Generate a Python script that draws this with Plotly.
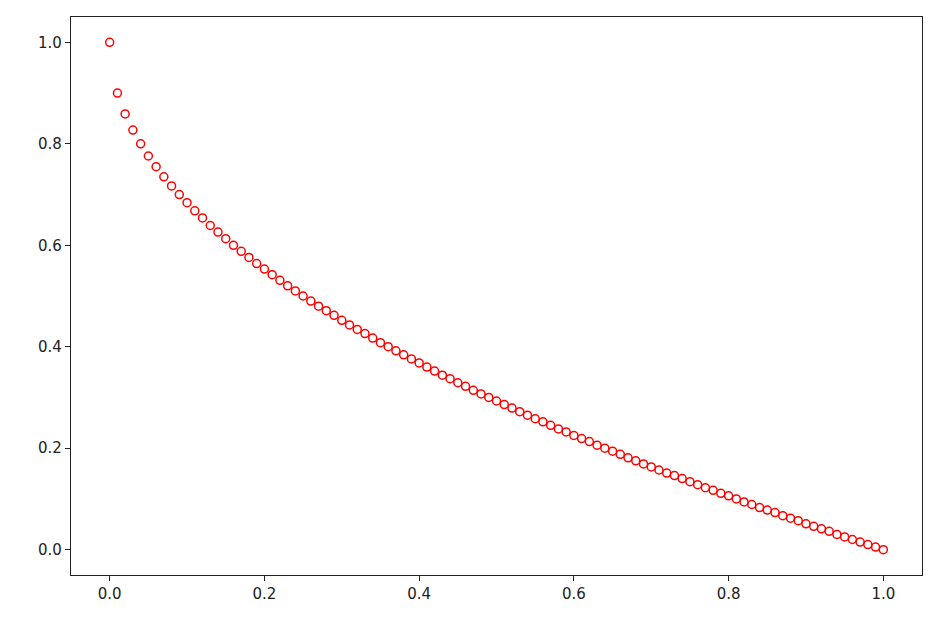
import plotly.graph_objects as go

# x samples (0 .. 1, step 0.01)
x_vals = [
    0.00, 0.01, 0.02, 0.03, 0.04, 0.05, 0.06, 0.07, 0.08, 0.09,
    0.10, 0.11, 0.12, 0.13, 0.14, 0.15, 0.16, 0.17, 0.18, 0.19,
    0.20, 0.21, 0.22, 0.23, 0.24, 0.25, 0.26, 0.27, 0.28, 0.29,
    0.30, 0.31, 0.32, 0.33, 0.34, 0.35, 0.36, 0.37, 0.38, 0.39,
    0.40, 0.41, 0.42, 0.43, 0.44, 0.45, 0.46, 0.47, 0.48, 0.49,
    0.50, 0.51, 0.52, 0.53, 0.54, 0.55, 0.56, 0.57, 0.58, 0.59,
    0.60, 0.61, 0.62, 0.63, 0.64, 0.65, 0.66, 0.67, 0.68, 0.69,
    0.70, 0.71, 0.72, 0.73, 0.74, 0.75, 0.76, 0.77, 0.78, 0.79,
    0.80, 0.81, 0.82, 0.83, 0.84, 0.85, 0.86, 0.87, 0.88, 0.89,
    0.90, 0.91, 0.92, 0.93, 0.94, 0.95, 0.96, 0.97, 0.98, 0.99,
    1.00,
]

y_vals = [
    1.000, 0.900, 0.859, 0.827, 0.800, 0.776, 0.755, 0.735, 0.717, 0.700,
    0.684, 0.668, 0.654, 0.639, 0.626, 0.613, 0.600, 0.588, 0.576, 0.564,
    0.553, 0.542, 0.531, 0.520, 0.510, 0.500, 0.490, 0.480, 0.471, 0.462,
    0.452, 0.443, 0.434, 0.426, 0.417, 0.408, 0.400, 0.392, 0.384, 0.376,
    0.368, 0.360, 0.352, 0.344, 0.337, 0.329, 0.322, 0.314, 0.307, 0.300,
    0.293, 0.286, 0.279, 0.272, 0.265, 0.258, 0.252, 0.245, 0.238, 0.232,
    0.225, 0.219, 0.213, 0.206, 0.200, 0.194, 0.188, 0.181, 0.175, 0.169,
    0.163, 0.157, 0.151, 0.146, 0.140, 0.134, 0.128, 0.122, 0.117, 0.111,
    0.106, 0.100, 0.094, 0.089, 0.083, 0.078, 0.073, 0.067, 0.062, 0.057,
    0.051, 0.046, 0.041, 0.036, 0.030, 0.025, 0.020, 0.015, 0.010, 0.005,
    0.000,
]

tick_vals = [0.0, 0.2, 0.4, 0.6, 0.8, 1.0]
tick_text = ["0.0", "0.2", "0.4", "0.6", "0.8", "1.0"]

fig = go.Figure(go.Scatter(
    x=x_vals, y=y_vals, mode="markers",
    marker=dict(symbol="circle-open", color="red", size=8, line=dict(width=1.5)),
))

axis_style = dict(
    showgrid=False, zeroline=False, showline=True, linecolor="#222", linewidth=1.3,
    mirror=True, ticks="outside", ticklen=5, tickcolor="#222",
    tickvals=tick_vals, ticktext=tick_text,
)
fig.update_xaxes(range=[-0.05, 1.05], **axis_style)
fig.update_yaxes(range=[-0.05, 1.05], **axis_style)

fig.update_layout(
    width=931, height=620,
    margin=dict(l=63, r=17, t=9, b=53),
    plot_bgcolor="white", paper_bgcolor="white",
    font=dict(family="DejaVu Sans", size=15, color="#222"),
    showlegend=False,
)

fig.write_html("out.html")
